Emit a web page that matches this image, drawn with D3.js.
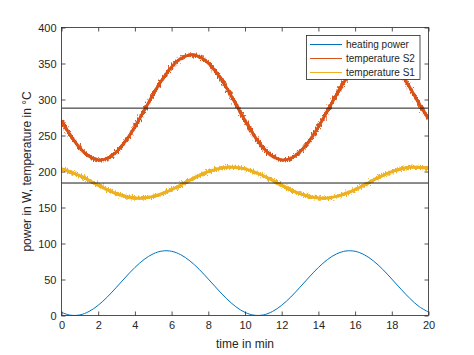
<!DOCTYPE html>
<html>
<head>
<meta charset="utf-8">
<script src="https://cdn.jsdelivr.net/npm/d3@7"></script>
<style>
  html, body { margin: 0; padding: 0; background: #fff; }
  svg { display: block; font-family: Arial, "Liberation Sans", sans-serif; }
</style>
</head>
<body>
<svg id="chart" width="474" height="355"></svg>
<script>
// time in min (0.5 min steps)
const time = d3.range(0, 20.01, 0.5);
// heating power in W
const heatingPower = [4.3, 0.4, 0.8, 5.6, 14.2, 25.8, 39.4, 53.4, 66.7, 77.8, 85.7, 89.6, 89.2, 84.4, 75.8, 64.2, 50.6, 36.6, 23.3, 12.2,
  4.3, 0.4, 0.8, 5.6, 14.2, 25.8, 39.4, 53.4, 66.7, 77.8, 85.7, 89.6, 89.2, 84.4, 75.8, 64.2, 50.6, 36.6, 23.3, 12.2, 4.8];
// temperature S2 in °C
const temperatureS2 = [270.8, 249.9, 232.7, 221.1, 216.1, 218.3, 227.4, 242.5, 262.1, 284.4, 307.2, 328.1, 345.3, 356.9, 361.9, 359.7, 350.6, 335.5, 315.9, 293.6,
  270.8, 249.9, 232.7, 221.1, 216.1, 218.3, 227.4, 242.5, 262.1, 284.4, 307.2, 328.1, 345.3, 356.9, 361.9, 359.7, 350.6, 335.5, 315.9, 293.6, 273.5];
// temperature S1 in °C
const temperatureS1 = [203.6, 199.6, 194.1, 187.7, 181.0, 174.6, 169.2, 165.3, 163.2, 163.3, 165.4, 169.4, 174.8, 181.3, 188.0, 194.4, 199.8, 203.7, 205.8, 205.7,
  203.6, 199.6, 194.1, 187.7, 181.0, 174.6, 169.2, 165.3, 163.2, 163.3, 165.4, 169.4, 174.8, 181.3, 188.0, 194.4, 199.8, 203.7, 205.8, 205.7, 204.5];
// horizontal reference levels
const refLevels = [288, 184];
const xTicks = [0, 2, 4, 6, 8, 10, 12, 14, 16, 18, 20];
const yTicks = [0, 50, 100, 150, 200, 250, 300, 350, 400];
const seriesNames = ["heating power", "temperature S2", "temperature S1"];
const seriesColors = ["#0072BD", "#D95319", "#EDB120"];

const svg = d3.select("#chart");
const L = 61.5, R = 428.5, T = 27.5, B = 315.5;
const x = d3.scaleLinear().domain([0, 20]).range([L, R]);
const y = d3.scaleLinear().domain([0, 400]).range([B, T]);
const axisColor = "#262626";

const defs = svg.append("defs");
defs.append("clipPath").attr("id", "plotclip")
  .append("rect").attr("x", L).attr("y", T).attr("width", R - L).attr("height", B - T);

// measurement-noise look for the sensor traces
const f = defs.append("filter").attr("id", "noisy")
  .attr("filterUnits", "userSpaceOnUse")
  .attr("x", 0).attr("y", 0).attr("width", 474).attr("height", 355);
f.append("feTurbulence").attr("type", "fractalNoise")
  .attr("baseFrequency", "1.2 0.35").attr("numOctaves", 2).attr("seed", 3).attr("result", "turb");
f.append("feDisplacementMap").attr("in", "SourceGraphic").attr("in2", "turb")
  .attr("scale", 7).attr("xChannelSelector", "R").attr("yChannelSelector", "G");

const plot = svg.append("g").attr("clip-path", "url(#plotclip)");

const series = [heatingPower, temperatureS2, temperatureS1];
series.forEach((vals, i) => {
  const line = d3.line()
    .x((d, j) => x(time[j]))
    .y(d => y(d))
    .curve(d3.curveCatmullRom.alpha(0.5));
  const g = plot.append("g");
  if (i === 0) {
    g.append("path").datum(vals).attr("d", line)
      .attr("fill", "none").attr("stroke", seriesColors[i]).attr("stroke-width", 1);
  } else {
    g.append("path").datum(vals).attr("d", line)
      .attr("fill", "none").attr("stroke", seriesColors[i]).attr("stroke-width", 3);
    g.append("g").attr("filter", "url(#noisy)")
      .append("path").datum(vals).attr("d", line)
      .attr("fill", "none").attr("stroke", seriesColors[i]).attr("stroke-width", 3.4);
  }
});

plot.selectAll("line.ref").data(refLevels).enter().append("line")
  .attr("class", "ref")
  .attr("x1", L).attr("x2", R)
  .attr("y1", d => y(d)).attr("y2", d => y(d))
  .attr("stroke", "#1a1a1a").attr("stroke-width", 1);

// axes
function styleAxis(g) {
  g.select(".domain").remove();
  g.selectAll(".tick line").attr("stroke", axisColor).attr("stroke-width", 0.8);
  g.selectAll(".tick text").attr("fill", axisColor).style("font-size", "11px");
}
svg.append("g").attr("transform", `translate(0,${B})`)
  .call(d3.axisBottom(x).tickValues(xTicks).tickSizeInner(-4).tickSizeOuter(0).tickPadding(6))
  .call(styleAxis);
svg.append("g").attr("transform", `translate(0,${T})`)
  .call(d3.axisTop(x).tickValues(xTicks).tickSizeInner(-4).tickSizeOuter(0).tickFormat(""))
  .call(styleAxis);
svg.append("g").attr("transform", `translate(${L},0)`)
  .call(d3.axisLeft(y).tickValues(yTicks).tickSizeInner(-4).tickSizeOuter(0).tickPadding(5))
  .call(styleAxis);
svg.append("g").attr("transform", `translate(${R},0)`)
  .call(d3.axisRight(y).tickValues(yTicks).tickSizeInner(-4).tickSizeOuter(0).tickFormat(""))
  .call(styleAxis);

svg.append("rect").attr("x", L).attr("y", T).attr("width", R - L).attr("height", B - T)
  .attr("fill", "none").attr("stroke", axisColor).attr("stroke-width", 0.8);

// axis labels
svg.append("text").attr("x", (L + R) / 2).attr("y", 348)
  .attr("text-anchor", "middle").attr("fill", axisColor).style("font-size", "12px")
  .text("time in min");
svg.append("text").attr("transform", `translate(31,${(T + B) / 2}) rotate(-90)`)
  .attr("text-anchor", "middle").attr("fill", axisColor).style("font-size", "12px")
  .text("power in W, temperature in °C");

// legend
const lg = svg.append("g");
lg.append("rect").attr("x", 306.5).attr("y", 35.5).attr("width", 113.5).attr("height", 44)
  .attr("fill", "#fff").attr("stroke", axisColor).attr("stroke-width", 0.8);
seriesNames.forEach((name, i) => {
  const cy = 44.5 + i * 14;
  lg.append("line").attr("x1", 310).attr("x2", 342).attr("y1", cy).attr("y2", cy)
    .attr("stroke", seriesColors[i]).attr("stroke-width", 1);
  lg.append("text").attr("x", 346).attr("y", cy + 3.6)
    .attr("fill", axisColor).style("font-size", "10px").text(name);
});
</script>
</body>
</html>
